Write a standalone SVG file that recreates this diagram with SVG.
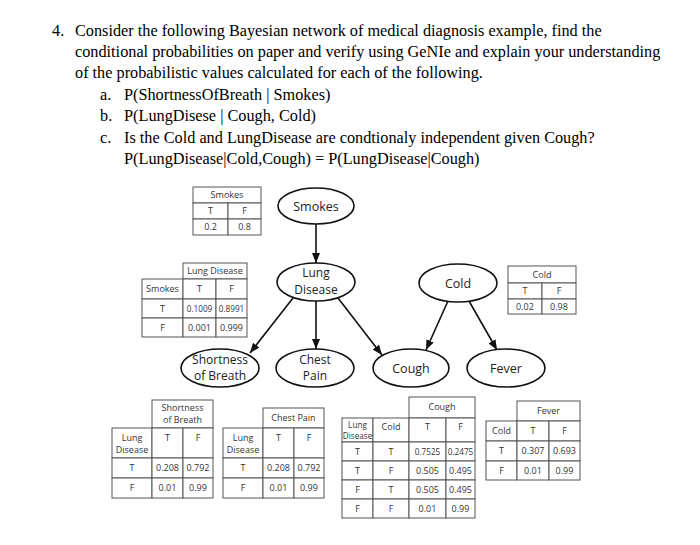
<svg xmlns="http://www.w3.org/2000/svg" width="700" height="545" viewBox="0 0 700 545">
<defs>
<marker id="ah" markerUnits="userSpaceOnUse" markerWidth="10" markerHeight="8" refX="10" refY="4" orient="auto">
<path d="M0,0 L10,4 L0,8 z" fill="#111"/>
</marker>
<style>
.q{font-family:"Liberation Serif","Times New Roman",serif;font-size:16.25px;fill:#000}
.n{fill:#fff;stroke:#111;stroke-width:1.6}
.nt{font-family:"Open Sans","DejaVu Sans",sans-serif;font-size:12.5px;fill:#222;text-anchor:middle}
.nt2{font-family:"Open Sans","DejaVu Sans",sans-serif;font-size:12px;fill:#222;text-anchor:middle}
.c{fill:#fff;stroke:#555;stroke-width:1}
.t{font-family:"Open Sans","DejaVu Sans",sans-serif;font-size:9px;fill:#333;text-anchor:middle}
.ts{font-family:"Open Sans","DejaVu Sans",sans-serif;font-size:8.2px;fill:#333;text-anchor:middle}
.e{stroke:#111;stroke-width:1.6;fill:none;marker-end:url(#ah)}
</style>
</defs>
<rect width="700" height="545" fill="#fff"/>
<g id="question">
<text class="q" x="52" y="36">4.</text>
<text class="q" x="75" y="36">Consider the following Bayesian network of medical diagnosis example, find the</text>
<text class="q" x="75" y="57">conditional probabilities on paper and verify using GeNIe and explain your understanding</text>
<text class="q" x="75" y="78">of the probabilistic values calculated for each of the following.</text>
<text class="q" x="100" y="100">a.</text>
<text class="q" x="124" y="100">P(ShortnessOfBreath | Smokes)</text>
<text class="q" x="100" y="121">b.</text>
<text class="q" x="124" y="121">P(LungDisese | Cough, Cold)</text>
<text class="q" x="100" y="143">c.</text>
<text class="q" x="124" y="143">Is the Cold and LungDisease are condtionaly independent given Cough?</text>
<text class="q" x="124" y="164">P(LungDisease|Cold,Cough) = P(LungDisease|Cough)</text>
</g>
<g id="connectors">
<line class="e" x1="316" y1="224" x2="316" y2="263"/>
<line class="e" x1="293" y1="298" x2="250" y2="353"/>
<line class="e" x1="316" y1="301" x2="316" y2="349"/>
<line class="e" x1="338" y1="298" x2="382" y2="355"/>
<line class="e" x1="448" y1="301" x2="426" y2="350"/>
<line class="e" x1="469" y1="301" x2="497" y2="350"/>
</g>
<g id="node-smokes">
<ellipse class="n" cx="316" cy="206" rx="38" ry="18"/>
<text class="nt" x="316" y="210.5">Smokes</text>
</g>
<g id="node-lungdisease">
<ellipse class="n" cx="316" cy="282" rx="39" ry="19"/>
<text class="nt2" x="316" y="277">Lung</text>
<text class="nt2" x="316" y="294">Disease</text>
</g>
<g id="node-cold">
<ellipse class="n" cx="458" cy="283" rx="39" ry="19"/>
<text class="nt" x="458" y="287.5">Cold</text>
</g>
<g id="node-shortness">
<ellipse class="n" cx="220" cy="368" rx="39" ry="19"/>
<text class="nt2" x="220" y="364">Shortness</text>
<text class="nt2" x="220" y="380">of Breath</text>
</g>
<g id="node-chestpain">
<ellipse class="n" cx="315" cy="368" rx="39" ry="19"/>
<text class="nt2" x="315" y="364">Chest</text>
<text class="nt2" x="315" y="380">Pain</text>
</g>
<g id="node-cough">
<ellipse class="n" cx="411" cy="368" rx="38" ry="19"/>
<text class="nt" x="411" y="372.5">Cough</text>
</g>
<g id="node-fever">
<ellipse class="n" cx="506" cy="368" rx="39" ry="19"/>
<text class="nt" x="506" y="372.5">Fever</text>
</g>
<g id="table-smokes">
<rect class="c" x="193" y="187" width="68" height="16"/>
<rect class="c" x="193" y="203" width="35" height="16"/>
<rect class="c" x="228" y="203" width="33" height="16"/>
<rect class="c" x="193" y="219" width="35" height="16"/>
<rect class="c" x="228" y="219" width="33" height="16"/>
<text class="t" x="227" y="198">Smokes</text>
<text class="t" x="210.5" y="214">T</text>
<text class="t" x="244.5" y="214">F</text>
<text class="t" x="210.5" y="230">0.2</text>
<text class="t" x="244.5" y="230">0.8</text>
</g>
<g id="table-lungdisease">
<rect class="c" x="183" y="263" width="64" height="16"/>
<rect class="c" x="142" y="279" width="41" height="20"/>
<rect class="c" x="183" y="279" width="33" height="20"/>
<rect class="c" x="216" y="279" width="31" height="20"/>
<rect class="c" x="142" y="299" width="41" height="19"/>
<rect class="c" x="183" y="299" width="33" height="19"/>
<rect class="c" x="216" y="299" width="31" height="19"/>
<rect class="c" x="142" y="318" width="41" height="19"/>
<rect class="c" x="183" y="318" width="33" height="19"/>
<rect class="c" x="216" y="318" width="31" height="19"/>
<text class="t" x="215" y="274">Lung Disease</text>
<text class="t" x="162.5" y="292">Smokes</text>
<text class="t" x="199.5" y="292">T</text>
<text class="t" x="231.5" y="292">F</text>
<text class="t" x="162.5" y="312">T</text>
<text class="ts" x="199.5" y="312">0.1009</text>
<text class="ts" x="231.5" y="312">0.8991</text>
<text class="t" x="162.5" y="331">F</text>
<text class="t" x="199.5" y="331">0.001</text>
<text class="t" x="231.5" y="331">0.999</text>
</g>
<g id="table-cold">
<rect class="c" x="508" y="266" width="68" height="17"/>
<rect class="c" x="508" y="283" width="34" height="16"/>
<rect class="c" x="542" y="283" width="34" height="16"/>
<rect class="c" x="508" y="299" width="34" height="15"/>
<rect class="c" x="542" y="299" width="34" height="15"/>
<text class="t" x="542" y="278">Cold</text>
<text class="t" x="525" y="294">T</text>
<text class="t" x="559" y="294">F</text>
<text class="t" x="525" y="310">0.02</text>
<text class="t" x="559" y="310">0.98</text>
</g>
<g id="table-shortness">
<rect class="c" x="152" y="400" width="61" height="28"/>
<rect class="c" x="112" y="428" width="40" height="30"/>
<rect class="c" x="152" y="428" width="31" height="30"/>
<rect class="c" x="183" y="428" width="30" height="30"/>
<rect class="c" x="112" y="458" width="40" height="20"/>
<rect class="c" x="152" y="458" width="31" height="20"/>
<rect class="c" x="183" y="458" width="30" height="20"/>
<rect class="c" x="112" y="478" width="40" height="20"/>
<rect class="c" x="152" y="478" width="31" height="20"/>
<rect class="c" x="183" y="478" width="30" height="20"/>
<text class="t" x="182.5" y="411">Shortness</text>
<text class="t" x="182.5" y="423">of Breath</text>
<text class="t" x="132" y="441">Lung</text>
<text class="t" x="132" y="453">Disease</text>
<text class="t" x="167.5" y="441">T</text>
<text class="t" x="198" y="441">F</text>
<text class="t" x="132" y="471">T</text>
<text class="t" x="167.5" y="471">0.208</text>
<text class="t" x="198" y="471">0.792</text>
<text class="t" x="132" y="491">F</text>
<text class="t" x="167.5" y="491">0.01</text>
<text class="t" x="198" y="491">0.99</text>
</g>
<g id="table-chestpain">
<rect class="c" x="263" y="408" width="61" height="20"/>
<rect class="c" x="223" y="428" width="40" height="30"/>
<rect class="c" x="263" y="428" width="31" height="30"/>
<rect class="c" x="294" y="428" width="30" height="30"/>
<rect class="c" x="223" y="458" width="40" height="20"/>
<rect class="c" x="263" y="458" width="31" height="20"/>
<rect class="c" x="294" y="458" width="30" height="20"/>
<rect class="c" x="223" y="478" width="40" height="20"/>
<rect class="c" x="263" y="478" width="31" height="20"/>
<rect class="c" x="294" y="478" width="30" height="20"/>
<text class="t" x="293.5" y="421">Chest Pain</text>
<text class="t" x="243" y="441">Lung</text>
<text class="t" x="243" y="453">Disease</text>
<text class="t" x="278.5" y="441">T</text>
<text class="t" x="309" y="441">F</text>
<text class="t" x="243" y="471">T</text>
<text class="t" x="278.5" y="471">0.208</text>
<text class="t" x="309" y="471">0.792</text>
<text class="t" x="243" y="491">F</text>
<text class="t" x="278.5" y="491">0.01</text>
<text class="t" x="309" y="491">0.99</text>
</g>
<g id="table-cough">
<rect class="c" x="409" y="397" width="66" height="21"/>
<rect class="c" x="342" y="418" width="31" height="24"/>
<rect class="c" x="373" y="418" width="36" height="24"/>
<rect class="c" x="409" y="418" width="37" height="24"/>
<rect class="c" x="446" y="418" width="29" height="24"/>
<rect class="c" x="342" y="442" width="31" height="19"/>
<rect class="c" x="373" y="442" width="36" height="19"/>
<rect class="c" x="409" y="442" width="37" height="19"/>
<rect class="c" x="446" y="442" width="29" height="19"/>
<rect class="c" x="342" y="461" width="31" height="19"/>
<rect class="c" x="373" y="461" width="36" height="19"/>
<rect class="c" x="409" y="461" width="37" height="19"/>
<rect class="c" x="446" y="461" width="29" height="19"/>
<rect class="c" x="342" y="480" width="31" height="19"/>
<rect class="c" x="373" y="480" width="36" height="19"/>
<rect class="c" x="409" y="480" width="37" height="19"/>
<rect class="c" x="446" y="480" width="29" height="19"/>
<rect class="c" x="342" y="499" width="31" height="19"/>
<rect class="c" x="373" y="499" width="36" height="19"/>
<rect class="c" x="409" y="499" width="37" height="19"/>
<rect class="c" x="446" y="499" width="29" height="19"/>
<text class="t" x="442" y="410">Cough</text>
<text class="ts" x="357.5" y="428">Lung</text>
<text class="ts" x="357.5" y="439">Disease</text>
<text class="t" x="391" y="430">Cold</text>
<text class="t" x="427.5" y="430">T</text>
<text class="t" x="460.5" y="430">F</text>
<text class="t" x="357.5" y="455">T</text><text class="t" x="391" y="455">T</text>
<text class="ts" x="427.5" y="455">0.7525</text><text class="ts" x="460.5" y="455">0.2475</text>
<text class="t" x="357.5" y="474">T</text><text class="t" x="391" y="474">F</text>
<text class="t" x="427.5" y="474">0.505</text><text class="t" x="460.5" y="474">0.495</text>
<text class="t" x="357.5" y="493">F</text><text class="t" x="391" y="493">T</text>
<text class="t" x="427.5" y="493">0.505</text><text class="t" x="460.5" y="493">0.495</text>
<text class="t" x="357.5" y="512">F</text><text class="t" x="391" y="512">F</text>
<text class="t" x="427.5" y="512">0.01</text><text class="t" x="460.5" y="512">0.99</text>
</g>
<g id="table-fever">
<rect class="c" x="517" y="401" width="63" height="20"/>
<rect class="c" x="486" y="421" width="31" height="20"/>
<rect class="c" x="517" y="421" width="32" height="20"/>
<rect class="c" x="549" y="421" width="31" height="20"/>
<rect class="c" x="486" y="441" width="31" height="20"/>
<rect class="c" x="517" y="441" width="32" height="20"/>
<rect class="c" x="549" y="441" width="31" height="20"/>
<rect class="c" x="486" y="461" width="31" height="19"/>
<rect class="c" x="517" y="461" width="32" height="19"/>
<rect class="c" x="549" y="461" width="31" height="19"/>
<text class="t" x="548.5" y="414">Fever</text>
<text class="t" x="501.5" y="434">Cold</text>
<text class="t" x="533" y="434">T</text>
<text class="t" x="564.5" y="434">F</text>
<text class="t" x="501.5" y="454">T</text>
<text class="t" x="533" y="454">0.307</text>
<text class="t" x="564.5" y="454">0.693</text>
<text class="t" x="501.5" y="474">F</text>
<text class="t" x="533" y="474">0.01</text>
<text class="t" x="564.5" y="474">0.99</text>
</g>
</svg>
